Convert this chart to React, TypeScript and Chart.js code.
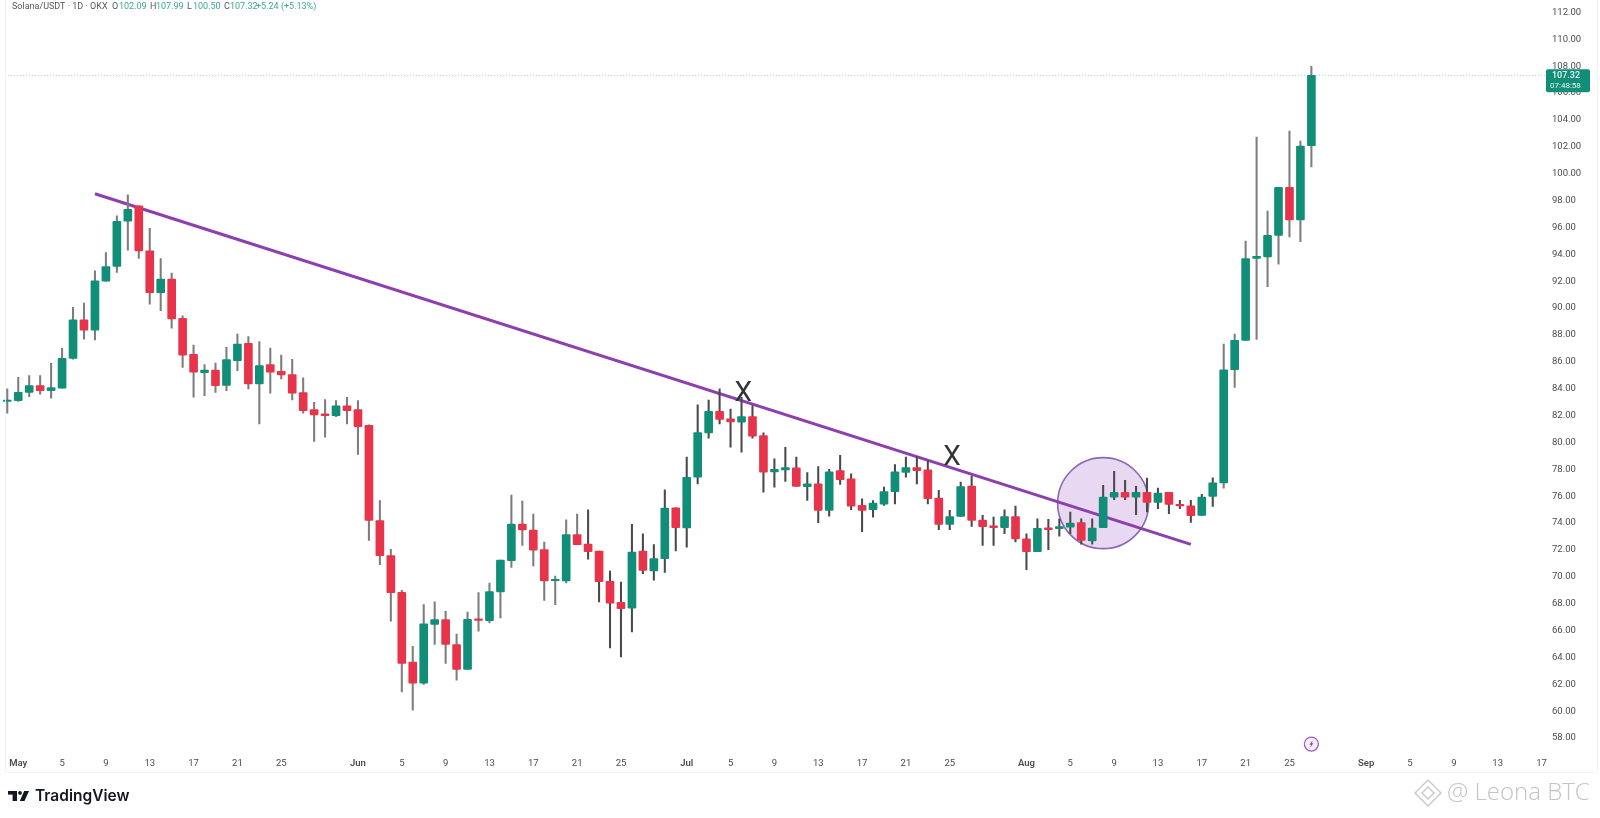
import React, { useEffect, useRef } from "react";
import { Chart, registerables } from "chart.js";

Chart.register(...registerables);

const monthNames = ["Apr", "May", "Jun", "Jul", "Aug", "Sep"];
const monthDays = [30, 31, 30, 31, 31, 17];
const tickDays = [5, 9, 13, 17, 21, 25];

const opens = [
  83.05, 83.11, 83.73, 84.23, 83.85, 84.03, 86.26, 89.13, 88.36, 92.0,
  93.09, 96.46, 97.6, 94.26, 91.14, 92.15, 89.23, 86.55, 85.2, 85.39,
  84.25, 86.08, 87.37, 84.35, 85.79, 85.29, 85.04, 83.71, 82.44, 82.12,
  82.0, 82.72, 82.44, 81.28, 74.19, 71.57, 68.85, 63.65, 62.08, 66.46,
  66.81, 64.96, 63.1, 66.87, 66.74, 68.87, 71.2, 73.92, 73.48, 72.02,
  69.71, 69.69, 73.15, 72.44, 71.92, 69.66, 68.1, 67.66, 71.92, 70.43,
  71.35, 75.13, 73.63, 77.41, 80.71, 82.32, 81.75, 81.5, 81.92, 80.51,
  77.81, 77.96, 78.11, 76.7, 76.92, 74.94, 77.91, 77.29, 75.31, 74.99,
  75.4, 76.33, 77.76, 78.13, 77.96, 75.86, 73.9, 74.49, 76.75, 74.22,
  73.8, 73.65, 74.49, 72.83, 71.87, 73.65, 73.58, 73.7, 74.03, 72.66,
  73.66, 75.93, 76.28, 75.93, 76.28, 75.54, 76.28, 75.39, 75.29, 74.57,
  75.98, 76.99, 85.41, 87.6, 93.7, 93.8, 95.41, 98.98, 96.55, 102.09,
];
const closes = [
  83.15, 83.73, 84.23, 83.85, 84.08, 86.26, 89.13, 88.36, 92.03, 93.09,
  96.46, 97.35, 94.26, 91.14, 92.15, 89.2, 86.5, 85.22, 85.39, 84.23,
  86.16, 87.32, 84.35, 85.71, 85.22, 85.02, 83.66, 82.37, 82.05, 82.0,
  82.72, 82.37, 81.18, 74.19, 71.57, 68.82, 63.55, 62.08, 66.49, 66.81,
  64.96, 63.1, 66.84, 66.76, 68.89, 71.25, 73.92, 73.48, 71.99, 69.69,
  69.81, 73.15, 72.39, 71.87, 69.64, 68.03, 67.63, 71.84, 70.48, 71.35,
  75.11, 73.65, 77.41, 80.73, 82.32, 81.72, 81.53, 81.92, 80.46, 77.79,
  77.99, 78.13, 76.72, 76.92, 74.94, 77.81, 77.22, 75.26, 74.94, 75.48,
  76.35, 77.81, 78.13, 77.89, 75.81, 73.9, 74.49, 76.72, 74.2, 73.73,
  73.65, 74.49, 72.81, 71.87, 73.6, 73.5, 73.73, 74.0, 72.71, 73.63,
  75.93, 76.28, 75.93, 76.28, 75.54, 76.23, 75.39, 75.27, 74.55, 75.93,
  76.99, 85.41, 87.6, 93.68, 93.85, 95.41, 98.98, 96.55, 102.05, 107.32,
];
const highs = [
  83.98, 84.85, 84.97, 84.97, 85.89, 87.0, 90.05, 90.37, 92.77, 94.13,
  96.86, 98.42, 97.6, 95.94, 93.69, 92.6, 89.43, 87.25, 85.79, 85.91,
  87.07, 88.07, 87.87, 87.5, 87.03, 86.5, 86.18, 84.8, 82.99, 83.19,
  83.11, 83.36, 83.11, 81.3, 75.68, 72.04, 68.99, 64.83, 67.93, 68.13,
  67.43, 65.73, 67.38, 68.82, 69.54, 71.25, 76.08, 75.63, 74.67, 72.58,
  70.06, 74.24, 74.67, 74.99, 71.92, 70.43, 69.61, 73.9, 73.2, 72.39,
  76.47, 75.13, 78.9, 82.79, 83.16, 83.98, 82.49, 83.36, 82.74, 80.71,
  78.78, 79.64, 78.9, 77.76, 78.21, 77.99, 79.03, 77.66, 75.81, 75.68,
  76.67, 78.36, 78.9, 78.95, 78.6, 76.43, 74.94, 77.04, 77.47, 74.57,
  74.44, 74.99, 75.26, 73.2, 74.32, 74.27, 74.32, 74.82, 74.32, 74.32,
  76.8, 77.84, 77.17, 76.73, 77.35, 76.6, 76.28, 75.69, 75.69, 76.13,
  77.37, 87.32, 88.06, 94.99, 102.72, 97.22, 98.98, 103.17, 102.42, 107.99,
];
const lows = [
  82.17, 83.05, 83.41, 83.6, 83.29, 84.03, 86.2, 87.69, 87.62, 92.0,
  92.65, 94.3, 93.69, 90.29, 89.8, 88.51, 85.59, 83.36, 83.48, 83.73,
  83.86, 85.34, 83.98, 81.38, 83.66, 84.72, 83.16, 82.17, 80.07, 80.39,
  81.92, 81.38, 79.1, 72.71, 70.9, 66.69, 61.44, 60.08, 61.99, 64.96,
  63.55, 62.31, 63.1, 65.95, 66.57, 66.94, 70.7, 72.34, 70.8, 68.25,
  67.93, 69.54, 72.39, 71.32, 68.13, 64.71, 64.04, 65.9, 70.23, 69.74,
  70.33, 71.92, 72.21, 76.92, 80.31, 81.38, 79.64, 79.27, 80.31, 76.3,
  76.67, 77.09, 76.72, 75.68, 74.02, 74.52, 76.87, 74.99, 73.35, 74.44,
  75.31, 75.43, 77.42, 76.92, 75.43, 73.5, 73.5, 74.49, 73.75, 72.34,
  72.34, 73.2, 72.59, 70.53, 71.87, 72.02, 73.03, 73.21, 72.42, 72.42,
  73.66, 75.74, 75.74, 74.62, 74.82, 75.07, 74.7, 75.07, 74.05, 74.57,
  75.24, 76.6, 84.1, 87.6, 87.66, 91.6, 93.26, 95.29, 94.94, 100.5,
];

const priceTicks = [
  58, 60, 62, 64, 66, 68, 70, 72, 74, 76, 78, 80, 82, 84, 86, 88, 90, 92, 94,
  96, 98, 100, 102, 104, 106, 108, 110, 112,
];

// category text shown under each day
const dayTickText: string[] = [];
monthNames.forEach((name, m) => {
  for (let d = 1; d <= monthDays[m]; d++) {
    if (m === 0) {
      if (d === 30) dayTickText.push("");
      continue;
    }
    dayTickText.push(d === 1 ? name : tickDays.includes(d) ? String(d) : "");
  }
});

const trendStart = { index: 8, value: 98.51 };
const trendEnd = { index: 108, value: 72.41 };
const circleSpot = { index: 100, value: 75.48 };
const xMarks = [
  { index: 67.15, value: 83.65 },
  { index: 86.2, value: 78.9 },
];
const boltSpot = { index: 119, value: 57.55 };
const lastPrice = 107.32;
const headerParts = [
  { t: "Solana/USDT · 1D · OKX", x: 12, c: "#55585f" },
  { t: "O", x: 112, c: "#55585f" },
  { t: "102.09", x: 119, c: "#3aa893" },
  { t: "H", x: 150, c: "#55585f" },
  { t: "107.99", x: 156, c: "#3aa893" },
  { t: "L", x: 187, c: "#55585f" },
  { t: "100.50", x: 193, c: "#3aa893" },
  { t: "C", x: 224, c: "#55585f" },
  { t: "107.32", x: 230, c: "#3aa893" },
  { t: "+5.24 (+5.13%)", x: 256, c: "#3aa893" },
];

const GREEN = "#108E77";
const RED = "#E8344A";
const FONT = "Roboto, 'Noto Sans', sans-serif";

const overlay = {
  id: "overlay",
  beforeDatasetsDraw(chart: any) {
    const { ctx, scales } = chart;
    const y = scales.y.getPixelForValue(lastPrice);
    ctx.save();
    ctx.strokeStyle = "rgba(16,142,119,0.35)";
    ctx.lineWidth = 1;
    ctx.setLineDash([1, 2]);
    ctx.beginPath();
    ctx.moveTo(5, y);
    ctx.lineTo(1547, y);
    ctx.stroke();
    ctx.restore();
  },
  afterDraw(chart: any) {
    const { ctx, scales } = chart;
    const y = scales.y.getPixelForValue(lastPrice);
    ctx.save();
    ctx.textBaseline = "middle";

    // faint pane frame
    ctx.strokeStyle = "#f3f3f3";
    ctx.lineWidth = 1;
    ctx.beginPath();
    ctx.moveTo(5.5, 0);
    ctx.lineTo(5.5, 772.5);
    ctx.lineTo(1597.5, 772.5);
    ctx.lineTo(1597.5, 0);
    ctx.stroke();

    // header
    ctx.font = `9px ${FONT}`;
    ctx.textAlign = "left";
    headerParts.forEach((p) => {
      ctx.fillStyle = p.c;
      ctx.fillText(p.t, p.x, 6.5);
    });

    // X marks
    ctx.font = `400 28px ${FONT}`;
    ctx.textAlign = "center";
    ctx.fillStyle = "#333333";
    xMarks.forEach((m) => {
      ctx.fillText(
        "X",
        scales.x.getPixelForValue(m.index),
        scales.y.getPixelForValue(m.value) + 1
      );
    });

    // last price tag
    ctx.fillStyle = "#108E77";
    ctx.beginPath();
    ctx.roundRect(1546, y - 6, 44, 23, 2);
    ctx.fill();
    ctx.fillStyle = "#e6f5f1";
    ctx.textAlign = "left";
    ctx.font = `500 9px ${FONT}`;
    ctx.fillText("107.32", 1552, y);
    ctx.font = `8px ${FONT}`;
    ctx.fillText("07:48:58", 1550, y + 11);

    // lightning badge
    const bx = scales.x.getPixelForValue(boltSpot.index);
    const by = scales.y.getPixelForValue(boltSpot.value);
    ctx.beginPath();
    ctx.arc(bx, by, 7, 0, Math.PI * 2);
    ctx.fillStyle = "#f8f0fb";
    ctx.fill();
    ctx.lineWidth = 1.3;
    ctx.strokeStyle = "#a85cc4";
    ctx.stroke();
    ctx.fillStyle = "#8c3fa8";
    ctx.beginPath();
    ctx.moveTo(bx + 1.5, by - 4);
    ctx.lineTo(bx - 2, by + 0.8);
    ctx.lineTo(bx - 0.2, by + 0.8);
    ctx.lineTo(bx - 1.5, by + 4);
    ctx.lineTo(bx + 2, by - 0.8);
    ctx.lineTo(bx + 0.2, by - 0.8);
    ctx.closePath();
    ctx.fill();

    // TradingView mark
    ctx.fillStyle = "#131722";
    ctx.fillRect(8, 791, 9, 3.6);
    ctx.fillRect(12.6, 791, 4.4, 10);
    ctx.beginPath();
    ctx.arc(20, 792.9, 1.9, 0, Math.PI * 2);
    ctx.fill();
    ctx.beginPath();
    ctx.moveTo(24.2, 791);
    ctx.lineTo(29, 791);
    ctx.lineTo(24.5, 801);
    ctx.lineTo(19.8, 801);
    ctx.closePath();
    ctx.fill();
    ctx.font = `600 15.5px Inter, ${FONT}`;
    ctx.textAlign = "left";
    ctx.fillText("TradingView", 35, 796.5);

    // watermark
    ctx.strokeStyle = "#c9c9c9";
    ctx.lineWidth = 1.4;
    const wx = 1428;
    const wy = 793;
    ctx.beginPath();
    ctx.moveTo(wx, wy - 13);
    ctx.lineTo(wx + 13, wy);
    ctx.lineTo(wx, wy + 13);
    ctx.lineTo(wx - 13, wy);
    ctx.closePath();
    ctx.moveTo(wx - 6, wy);
    ctx.lineTo(wx, wy - 6);
    ctx.lineTo(wx + 6, wy);
    ctx.lineTo(wx, wy + 6);
    ctx.closePath();
    ctx.stroke();
    ctx.fillStyle = "#c4c4c4";
    ctx.font = `300 24px 'Open Sans', ${FONT}`;
    ctx.fillText("@ Leona BTC", 1447, 793);
    ctx.restore();
  },
};

export default function App() {
  const ref = useRef<HTMLCanvasElement>(null);

  useEffect(() => {
    document.body.style.margin = "0";
    const n = dayTickText.length;
    const trend = new Array(n).fill(null);
    trend[trendStart.index] = trendStart.value;
    trend[trendEnd.index] = trendEnd.value;
    const circle = new Array(n).fill(null);
    circle[circleSpot.index] = circleSpot.value;

    const chart = new Chart(ref.current as HTMLCanvasElement, {
      type: "bar",
      data: {
        labels: dayTickText,
        datasets: [
          {
            type: "line",
            label: "Breakout circle",
            data: circle,
            showLine: false,
            pointRadius: 45.5,
            pointBackgroundColor: "rgba(170,110,205,0.27)",
            pointBorderColor: "#8a68b4",
            pointBorderWidth: 1.6,
            order: 4,
          },
          {
            type: "line",
            label: "Trendline",
            data: trend,
            spanGaps: true,
            borderColor: "#8E3FAE",
            borderWidth: 3,
            pointRadius: 0,
            tension: 0,
            order: 3,
          },
          {
            label: "Wick",
            data: lows.map((l, i) => [l, highs[i]]),
            backgroundColor: lows.map((_, i) =>
              i >= 53 && i <= 110 ? "#4a4a4a" : "#7d7d7d"
            ),
            barThickness: 1.4,
            grouped: false,
            order: 2,
          },
          {
            label: "Body",
            data: opens.map((o, i) => [o, closes[i]]),
            backgroundColor: opens.map((o, i) =>
              closes[i] >= o ? GREEN : RED
            ),
            barThickness: 8,
            grouped: false,
            borderRadius: 1,
            borderSkipped: false,
            order: 1,
          },
        ],
      } as any,
      options: {
        responsive: false,
        animation: false,
        devicePixelRatio: 1,
        events: [],
        layout: {
          autoPadding: false,
          padding: { top: 0, bottom: 46, left: 1.8, right: 0 },
        },
        plugins: { legend: { display: false }, tooltip: { enabled: false } },
        scales: {
          x: {
            type: "category",
            offset: true,
            grid: { display: false, drawTicks: false },
            border: { display: false },
            ticks: {
              autoSkip: false,
              maxRotation: 0,
              minRotation: 0,
              padding: 6,
              color: "#4c4c4c",
              font: (ctx: any) => ({
                family: FONT,
                size: 9.5,
                weight: monthNames.includes(ctx.tick?.label) ? 600 : 400,
              }),
              callback: (_v: any, i: number) => dayTickText[i],
            },
            afterFit: (s: any) => {
              s.height = 20;
            },
          },
          y: {
            position: "right",
            min: 56.96,
            max: 112.13,
            grid: { display: false, drawTicks: false },
            border: { display: false },
            afterBuildTicks: (s: any) => {
              s.ticks = priceTicks.map((v) => ({ value: v }));
            },
            ticks: {
              padding: 5,
              color: "#4c4c4c",
              font: { family: FONT, size: 9.5 },
              callback: (v: any) => Number(v).toFixed(2),
            },
            afterFit: (s: any) => {
              s.width = 53;
            },
          },
        },
      } as any,
      plugins: [overlay],
    });
    return () => chart.destroy();
  }, []);

  return (
    <div style={{ position: "fixed", left: 0, top: 0, width: 1600, height: 818, background: "#fff" }}>
      <canvas ref={ref} width={1600} height={818} style={{ display: "block" }} />
    </div>
  );
}
